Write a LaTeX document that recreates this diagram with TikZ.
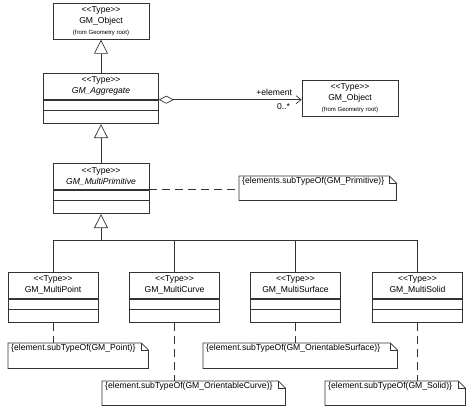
\documentclass[tikz,border=0pt]{standalone}
\usepackage{fontspec}
\setmainfont{Liberation Sans}[Ligatures=TeXOff]
\usetikzlibrary{arrows.meta}
\tikzset{
    uml/.style={draw=black!80, line width=0.7pt},
    typehead/.style={uml, inner sep=0pt, minimum height=26pt, align=center},
    compart/.style={uml, inner sep=0pt},
    inherit/.style={uml, -{Triangle[open,length=14pt,width=14pt]}},
    trace/.style={uml, dash pattern=on 8pt off 5pt},
}
\newcommand\TypeBox[5]{%
    \node[typehead, minimum width=#4pt, anchor=north] (#1) at (#2,#3) {<<Type>>\\#5};
    \node[compart, minimum width=#4pt, minimum height=10pt, anchor=north] (#1-a) at (#1.south) {};
    \node[compart, minimum width=#4pt, minimum height=13pt, anchor=north] (#1-b) at (#1-a.south) {};
}
\newcommand\ObjBox[3]{%
    \node[typehead, minimum width=96pt, minimum height=36pt, anchor=north] (#1) at (#2,#3)
        {<<Type>>\\GM\_Object\\{\fontsize{6}{8}\selectfont (from Geometry root)}};
}
\newcommand\NoteBox[6]{%
    \node[anchor=north west, inner sep=0pt, minimum width=#4pt, minimum height=#5pt] (#1) at (#2,#3) {};
    \draw[uml] (#1.north west) -- ([xshift=-7pt]#1.north east) -- ([yshift=-7pt]#1.north east)
        -- (#1.south east) -- (#1.south west) -- cycle;
    \draw[uml] ([xshift=-7pt]#1.north east) |- ([yshift=-7pt]#1.north east);
    \node[anchor=north west, inner sep=1pt] (#1-text) at ([xshift=2pt]#1.north west) {#6};
}

\begin{document}
\begin{tikzpicture}[x=1pt,y=-1pt,font=\fontsize{8.6}{11}\selectfont]
    \useasboundingbox (0,0) rectangle (474,413);
    \ObjBox{obj}{101}{3}
    \TypeBox{agg}{101}{73}{115}{\textit{GM\_Aggregate}}
    \ObjBox{elem}{350}{80}
    \TypeBox{prim}{101}{163}{96}{\textit{GM\_MultiPrimitive}}
    \TypeBox{pt}{53}{272}{90}{GM\_MultiPoint}
    \TypeBox{cv}{174.5}{272}{90}{GM\_MultiCurve}
    \TypeBox{sf}{295.5}{272}{90}{GM\_MultiSurface}
    \TypeBox{sd}{417.5}{272}{90}{GM\_MultiSolid}
    % constraints
    \NoteBox{nprim}{239}{176}{157}{24}{\{elements.subTypeOf(GM\_Primitive)\}}
    \NoteBox{npt}{8}{343}{140}{25}{\{element.subTypeOf(GM\_Point)\}}
    \NoteBox{ncv}{102}{381}{183}{24}{\{element.subTypeOf(GM\_OrientableCurve)\}}
    \NoteBox{nsf}{203}{343}{194}{25}{\{element.subTypeOf(GM\_OrientableSurface)\}}
    \NoteBox{nsd}{325}{381}{140}{24}{\{element.subTypeOf(GM\_Solid)\}}
    % generalisations
    \draw[inherit] (agg.north) -- (obj.south);
    \draw[inherit] (prim.north) -- (agg-b.south);
    \coordinate (bus) at (101,240);
    \draw[inherit] (bus) -- (prim-b.south);
    \foreach \sub in {pt,cv,sf,sd}
        \draw[uml] (\sub.north) |- (bus);
    % aggregation
    \draw[uml, {Diamond[open,length=15pt,width=8pt]}-{Straight Barb[length=5pt,width=8pt]}]
        (agg.south east) -- (agg.south east -| elem.west)
        node[pos=1, anchor=south east, xshift=-6pt] {+element}
        node[pos=1, anchor=north east, xshift=-8pt] {0..*};
    \draw[trace] (prim.south east) -- (prim.south east -| nprim.west);
    \foreach \sub in {pt,cv,sf,sd}
        \draw[trace] (\sub-b.south) -- (\sub-b.south |- n\sub.north);
\end{tikzpicture}
\end{document}
